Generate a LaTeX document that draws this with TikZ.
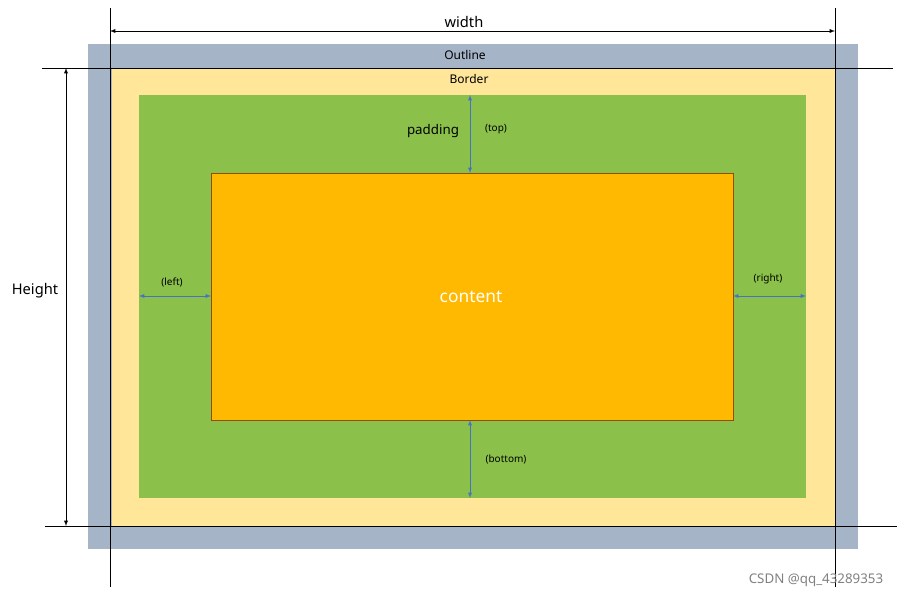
\documentclass[tikz,border=0pt]{standalone}
\usepackage{fontspec}
\setmainfont{Noto Sans}
\usetikzlibrary{positioning}
\definecolor{outl}{RGB}{166,180,200}
\definecolor{bord}{RGB}{255,230,153}
\definecolor{padd}{RGB}{139,193,74}
\definecolor{cont}{RGB}{255,185,0}
\definecolor{arr}{RGB}{68,114,196}
\begin{document}
\begin{tikzpicture}[x=0.75pt,y=-0.75pt]
    %styles
    \tikzstyle{box}=[draw=black!40,line width=0.4pt]
    \tikzstyle{dim}=[<->,>=latex,thin]
    \tikzstyle{pad}=[<->,>=latex,arr,thin]
    \tikzstyle{small}=[font=\fontsize{7.5}{8}\selectfont]
    \useasboundingbox (0,0) rectangle (916,599);
    %boxes
    \fill[outl] (88,44) rectangle (858,549);
    \fill[bord] (112,68) rectangle (835,526);
    \fill[padd] (139,95) rectangle (806,498);
    \fill[cont] (211,173) rectangle (733,420);
    \draw[draw=orange!60!black,very thin] (211,173) rectangle (733,420);
    %guide lines
    \draw (110,8)--(110,587);
    \draw (835,8)--(835,587);
    \draw (42,68)--(893,68);
    \draw (45,526)--(897,526);
    %coordinates
    \coordinate (wl) at (110,31);
    \coordinate (wr) at (835,31);
    \coordinate (ht) at (66,68);
    \coordinate (hb) at (66,526);
    \coordinate (tt) at (470,95);
    \coordinate (tb) at (470,173);
    \coordinate (bt) at (470,420);
    \coordinate (bb) at (470,498);
    \coordinate (ll) at (139,296);
    \coordinate (lr) at (211,296);
    \coordinate (rl) at (733,296);
    \coordinate (rr) at (806,296);
    %labels
    \node (width) at (464,22) {\fontsize{11}{12}\selectfont width};
    \node (height) at (35,291) {\fontsize{11}{12}\selectfont Height};
    \node[small,font=\fontsize{9}{10}\selectfont] (outline) at (465,55) {Outline};
    \node[small,font=\fontsize{9}{10}\selectfont] (border) at (469,79) {Border};
    \node (padding) at (433,131) {\fontsize{10}{11}\selectfont padding};
    \node[small] (top) at (496,129) {(top)};
    \node[small] (left) at (172,282) {(left)};
    \node[small] (right) at (768,279) {(right)};
    \node[small] (bottom) at (506,459) {(bottom)};
    \node[text=white] (content) at (471,297) {\fontsize{13}{14}\selectfont content};
    \node[text=black!50] (mark) at (816,580) {\fontsize{10}{11}\selectfont CSDN @qq\_43289353};
    %arrows
    \draw[dim] (wl)--(wr);
    \draw[dim] (ht)--(hb);
    \draw[pad] (tt)--(tb);
    \draw[pad] (bt)--(bb);
    \draw[pad] (ll)--(lr);
    \draw[pad] (rl)--(rr);
\end{tikzpicture}
\end{document}
